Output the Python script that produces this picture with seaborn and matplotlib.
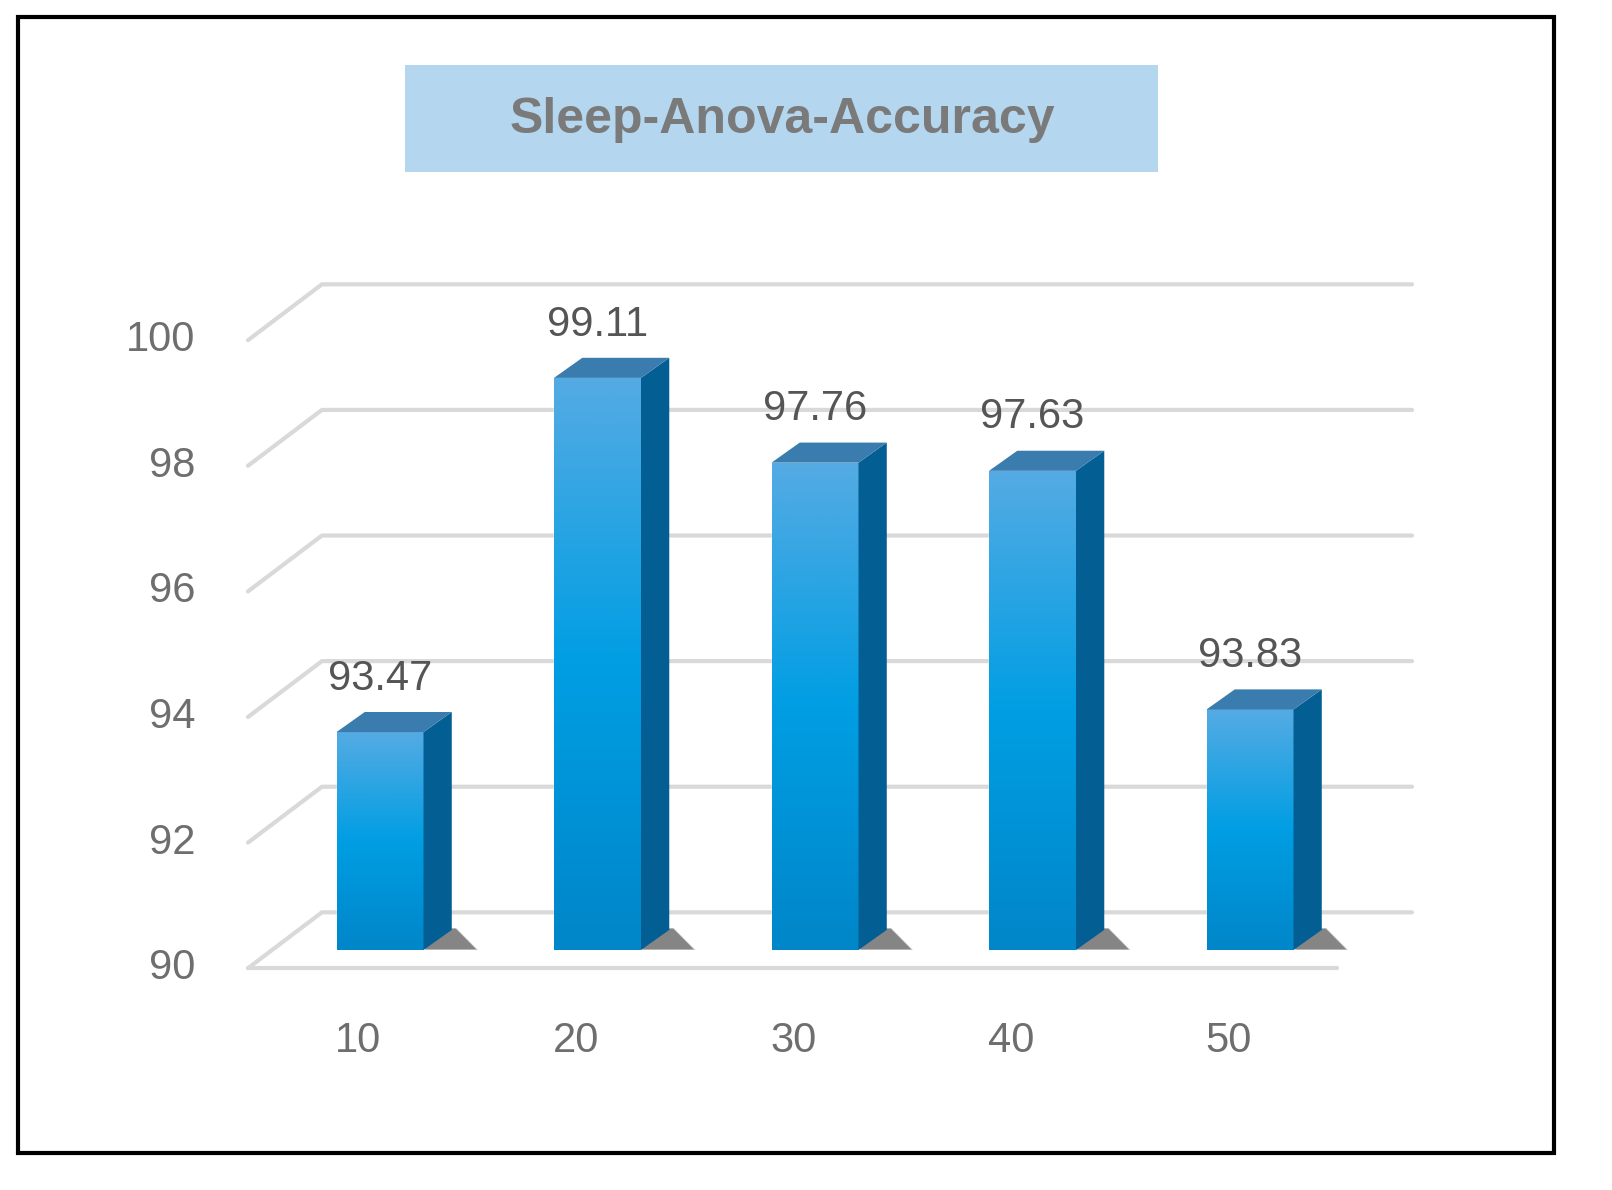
import matplotlib
matplotlib.use("Agg")
import matplotlib.pyplot as plt
import numpy as np
import pandas as pd
import seaborn as sns
from matplotlib.patches import Polygon, Rectangle

features = ["10", "20", "30", "40", "50"]
accuracy = [93.47, 99.11, 97.76, 97.63, 93.83]
y_ticks = [90, 92, 94, 96, 98, 100]

BASE = 90
DX, DY = 0.13, 0.32          # depth of the bars (data units)
GX, GF, GB = 0.34, -0.29, 0.60  # gridline wall offsets
GRAY = "#6e6e6e"


def main():
    sns.set_theme(style="white")
    plt.rcParams["font.family"] = ["Liberation Sans", "DejaVu Sans"]

    fig = plt.figure(figsize=(16.12, 11.9), dpi=100)
    fig.patches.append(Rectangle((0.011, 0.031), 0.953, 0.955, transform=fig.transFigure,
                                 fill=False, lw=3, ec="black"))

    # axes placed so that category spacing and value scale fit the reference
    ax = fig.add_axes([0.0, 0.0, 1.0, 1.0])
    W, H = 1612, 1190
    sx = 217.5 / W        # one category in figure fraction
    sy = 62.8 / H         # one value unit
    x0 = 380 / W - 0 * sx
    ax.set_xlim(-x0 / sx, (1 - x0) / sx)
    y0 = (H - 950) / H
    ax.set_ylim(BASE - y0 / sy, BASE + (1 - y0) / sy)
    ax.axis("off")

    df = pd.DataFrame({"features": features, "accuracy": np.array(accuracy) - BASE})
    # gridlines (back wall + left wall)
    xl, xr, xf = -0.607, 4.745, 4.40
    for v in y_ticks:
        ax.plot([xl, xl + GX, xr], [v + GF, v + GB, v + GB], color="#d9d9d9", lw=3, zorder=1)
    ax.plot([xl, xf], [BASE + GF, BASE + GF], color="#d9d9d9", lw=3, zorder=1)

    bars = sns.barplot(data=df, x="features", y="accuracy", bottom=BASE, width=0.4,
                       color="#0a9be0", ax=ax, zorder=3)
    grad = np.linspace(0, 1, 256).reshape(-1, 1)
    from matplotlib.colors import LinearSegmentedColormap
    cmap = LinearSegmentedColormap.from_list("b", ["#0086c9", "#009ee3", "#55abe3"])
    for p, val in zip(bars.patches, accuracy):
        x, w = p.get_x(), p.get_width()
        # shadow
        ax.add_patch(Polygon([(x + 0.05, BASE), (x + w + DX + 0.12, BASE),
                              (x + w + DX + 0.02, BASE + 0.35), (x + 0.1, BASE + 0.35)],
                             closed=True, fc="#222222", alpha=0.55, zorder=2))
        im = ax.imshow(grad, extent=(x, x + w, BASE, val), origin="lower",
                       cmap=cmap, aspect="auto", zorder=3.5)
        im.set_clip_path(p)
        ax.add_patch(Polygon([(x + w, BASE), (x + w + DX, BASE + DY),
                              (x + w + DX, val + DY), (x + w, val)],
                             closed=True, fc="#035f93", ec="none", zorder=3.6))
        ax.add_patch(Polygon([(x, val), (x + w, val), (x + w + DX, val + DY), (x + DX, val + DY)],
                             closed=True, fc="#3a7cad", ec="none", zorder=3.6))
        ax.text(x + w / 2, val + 0.85, f"{val:.2f}", ha="center", va="center",
                fontsize=30, color="#555555", zorder=5)
    ax.set_xlim(-x0 / sx, (1 - x0) / sx)

    for v in y_ticks:
        ax.text(-0.85, v + GF, str(v), ha="right", va="center", fontsize=30, color=GRAY)
    for i, f in enumerate(features):
        ax.text(i - 0.1, BASE - 1.45, f, ha="center", va="center", fontsize=30, color=GRAY)

    fig.patches.append(Rectangle((405 / W, 1 - 172 / H), 753 / W, 107 / H,
                                 transform=fig.transFigure, fc="#b4d7ef", ec="none"))
    fig.text(782 / W, 1 - 120 / H, "Sleep-Anova-Accuracy", ha="center", va="center",
             fontsize=36, fontweight="bold", color="#7a7a7a")

    fig.savefig("out.png", dpi=100)


if __name__ == "__main__":
    main()
